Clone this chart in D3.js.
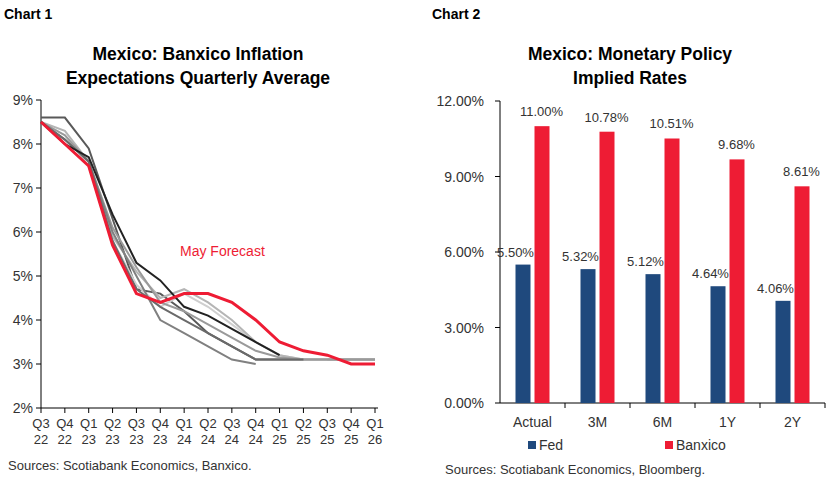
<!DOCTYPE html>
<html><head><meta charset="utf-8">
<script src="https://cdn.jsdelivr.net/npm/d3@7"></script>
<style>body{margin:0;background:#fff;font-family:Arial,"Liberation Sans",sans-serif}</style>
</head><body><svg id="c" width="828" height="483"></svg>
<script>
const quarters = ['Q3 22','Q4 22','Q1 23','Q2 23','Q3 23','Q4 23','Q1 24','Q2 24','Q3 24','Q4 24','Q1 25','Q2 25','Q3 25','Q4 25','Q1 26'];
const mayForecast = [8.5,8.0,7.5,5.7,4.6,4.4,4.6,4.6,4.4,4.0,3.5,3.3,3.2,3.0,3.0];
const pastForecasts = [
  {c:'#595959', v:[8.6,8.6,7.9,6.3,4.7,4.6,4.2,3.7,3.4,3.1,3.1,3.1,3.1,3.1,3.1]},
  {c:'#cfcfcf', v:[8.5,8.2,7.5,5.8,4.8,4.3,4.6,4.3,3.9,3.5,3.2,3.1,3.1]},
  {c:'#b5b5b5', v:[8.5,8.3,7.6,5.9,5.1,4.5,4.7,4.4,4.0,3.5,3.2,3.1,3.1,3.1,3.1]},
  {c:'#9a9a9a', v:[8.5,8.2,7.6,6.1,5.2,4.4,4.2,3.9,3.6,3.3,3.15,3.1,3.1,3.1,3.1]},
  {c:'#808080', v:[8.5,8.1,7.6,6.0,5.0,4.0,3.7,3.4,3.1,3.0]},
  {c:'#6a6a6a', v:[8.5,8.1,7.6,5.8,4.7,4.3,4.0,3.7,3.4,3.1,3.1,3.1]},
  {c:'#222222', v:[8.5,8.0,7.7,6.4,5.3,4.9,4.3,4.1,3.8,3.5,3.2]}
];
const yTicks1 = [2,3,4,5,6,7,8,9];

const tenors = ['Actual','3M','6M','1Y','2Y'];
const fed = [5.50,5.32,5.12,4.64,4.06];
const banxico = [11.00,10.78,10.51,9.68,8.61];
const yTicks2 = [0,3,6,9,12];

const svg = d3.select('#c');
const font = 'Arial,"Liberation Sans",sans-serif';

// ---- Chart 1
svg.append('text').attr('x',4).attr('y',19).attr('font-weight','bold').attr('font-size',14).text('Chart 1');
[['Mexico: Banxico Inflation',60],['Expectations Quarterly Average',84]].forEach(([t,y])=>
  svg.append('text').attr('x',198).attr('y',y).attr('text-anchor','middle').attr('font-weight','bold').attr('font-size',17.5).text(t));

const x1 = d3.scalePoint().domain(quarters).range([41,375]);
const y1 = d3.scaleLinear().domain([2,9]).range([408,100]);
const g1 = svg.append('g');
g1.append('line').attr('x1',41).attr('x2',41).attr('y1',100).attr('y2',408).attr('stroke','#000');
g1.append('line').attr('x1',41).attr('x2',378).attr('y1',408).attr('y2',408).attr('stroke','#000');
yTicks1.forEach(t=>{
  g1.append('line').attr('x1',36).attr('x2',41).attr('y1',y1(t)).attr('y2',y1(t)).attr('stroke','#000');
  g1.append('text').attr('x',33).attr('y',y1(t)+5).attr('text-anchor','end').attr('font-size',14).attr('fill','#333').text(t+'%');
});
quarters.forEach(q=>{
  const [a,b]=q.split(' ');
  g1.append('line').attr('x1',x1(q)).attr('x2',x1(q)).attr('y1',408).attr('y2',413).attr('stroke','#000');
  const t=g1.append('text').attr('x',x1(q)).attr('text-anchor','middle').attr('font-size',13).attr('fill','#333');
  t.append('tspan').attr('x',x1(q)).attr('y',428).text(a);
  t.append('tspan').attr('x',x1(q)).attr('y',444).text(b);
});
const line1 = d3.line().x((d,i)=>x1(quarters[i])).y(d=>y1(d));
pastForecasts.forEach(s=>g1.append('path').attr('d',line1(s.v)).attr('fill','none').attr('stroke',s.c).attr('stroke-width',2));
g1.append('path').attr('d',line1(mayForecast)).attr('fill','none').attr('stroke','#ee1c34').attr('stroke-width',3);
g1.append('text').attr('x',180).attr('y',256).attr('font-size',14).attr('fill','#ee1c34').text('May Forecast');
svg.append('text').attr('x',8).attr('y',470).attr('font-size',13).attr('fill','#333').text('Sources:  Scotiabank Economics, Banxico.');

// ---- Chart 2
svg.append('text').attr('x',432).attr('y',19).attr('font-weight','bold').attr('font-size',14).text('Chart 2');
[['Mexico: Monetary Policy',60],['Implied Rates',84]].forEach(([t,y])=>
  svg.append('text').attr('x',630).attr('y',y).attr('text-anchor','middle').attr('font-weight','bold').attr('font-size',17.5).text(t));

const x2 = d3.scaleBand().domain(tenors).range([500,825]);
const y2 = d3.scaleLinear().domain([0,12]).range([403,101]);
const g2 = svg.append('g');
g2.append('line').attr('x1',500).attr('x2',500).attr('y1',101).attr('y2',403).attr('stroke','#000');
g2.append('line').attr('x1',500).attr('x2',825).attr('y1',403).attr('y2',403).attr('stroke','#000');
yTicks2.forEach(t=>{
  g2.append('line').attr('x1',495).attr('x2',500).attr('y1',y2(t)).attr('y2',y2(t)).attr('stroke','#000');
  g2.append('text').attr('x',484).attr('y',y2(t)+5).attr('text-anchor','end').attr('font-size',14).attr('fill','#333').text(t.toFixed(2)+'%');
});
x2.domain().forEach(c=>{
  g2.append('line').attr('x1',x2(c)+x2.bandwidth()).attr('x2',x2(c)+x2.bandwidth()).attr('y1',403).attr('y2',408).attr('stroke','#000');
  g2.append('text').attr('x',x2(c)+x2.bandwidth()/2).attr('y',427).attr('text-anchor','middle').attr('font-size',14).attr('fill','#333').text(c);
});
const bw = 15;
tenors.forEach((c,i)=>{
  const cx = x2(c)+x2.bandwidth()/2;
  g2.append('rect').attr('x',cx-17).attr('y',y2(fed[i])).attr('width',bw).attr('height',y2(0)-y2(fed[i])).attr('fill','#1f497d');
  g2.append('rect').attr('x',cx+2).attr('y',y2(banxico[i])).attr('width',bw).attr('height',y2(0)-y2(banxico[i])).attr('fill','#ee1c34');
  g2.append('text').attr('x',cx-17).attr('y',y2(fed[i])-8).attr('text-anchor','middle').attr('font-size',13).attr('fill','#333').text(fed[i].toFixed(2)+'%');
  g2.append('text').attr('x',cx+9).attr('y',y2(banxico[i])-10).attr('text-anchor','middle').attr('font-size',13).attr('fill','#333').text(banxico[i].toFixed(2)+'%');
});
[['Fed','#1f497d',528],['Banxico','#ee1c34',665]].forEach(([t,c,x])=>{
  svg.append('rect').attr('x',x).attr('y',441).attr('width',8).attr('height',8).attr('fill',c);
  svg.append('text').attr('x',x+11).attr('y',450).attr('font-size',14).attr('fill','#333').text(t);
});
svg.append('text').attr('x',445).attr('y',474).attr('font-size',13).attr('fill','#333').text('Sources:  Scotiabank Economics, Bloomberg.');
</script></body></html>
